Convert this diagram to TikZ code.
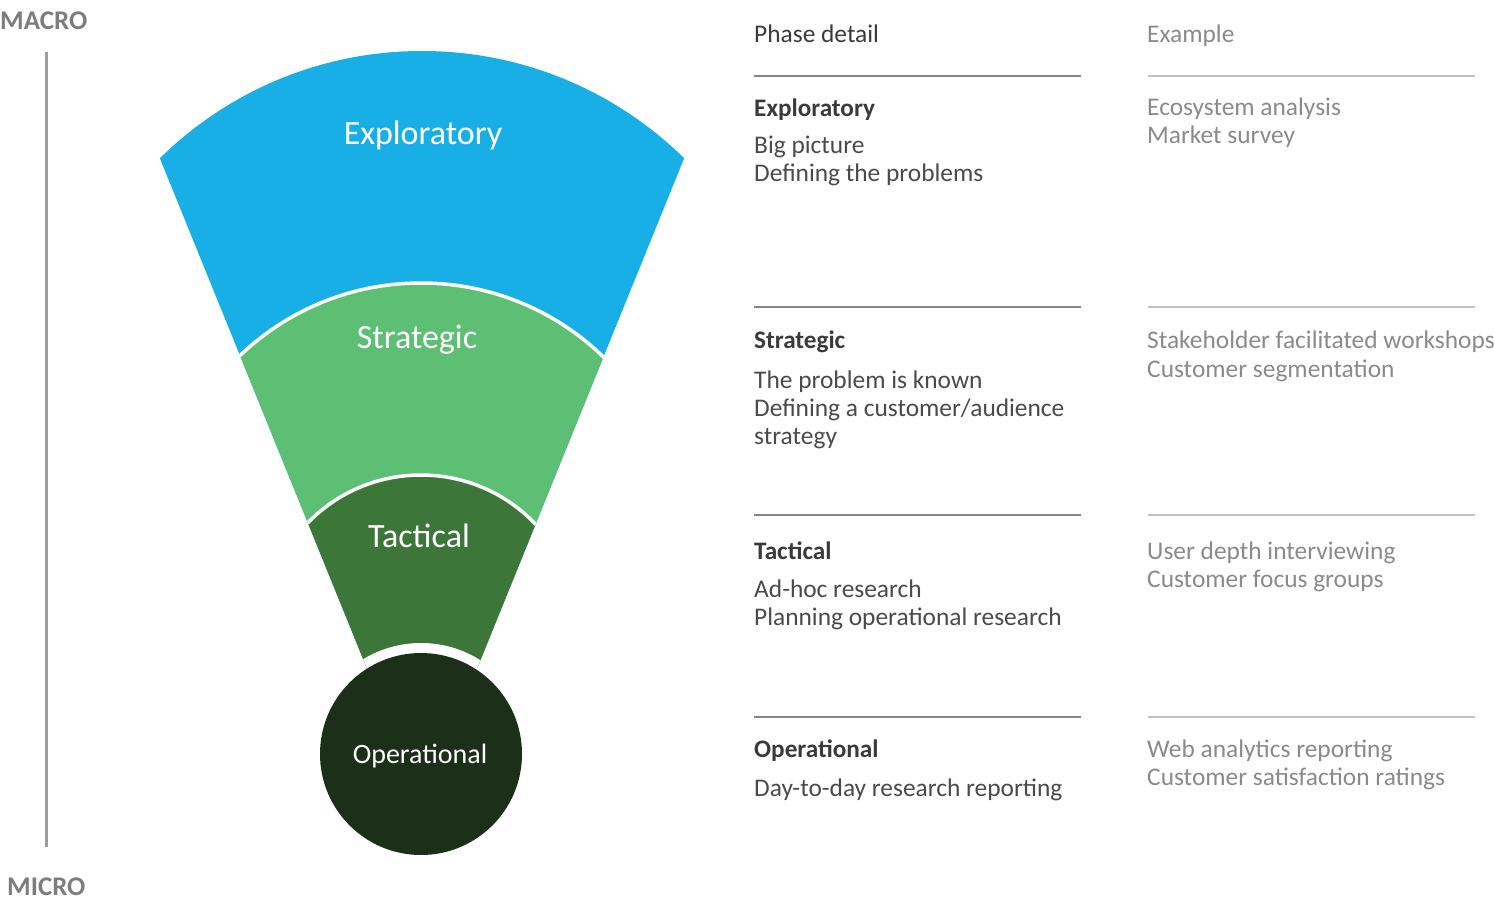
\documentclass[tikz,border=0pt]{standalone}
\usepackage{fontspec}
\setmainfont{Carlito}
\usepackage{tikz}
\definecolor{explblue}{HTML}{17AFE5}
\definecolor{stratgreen}{HTML}{5CBF73}
\definecolor{tactgreen}{HTML}{3C7739}
\definecolor{opgreen}{HTML}{1C2F18}
\definecolor{darktext}{HTML}{3A3A3A}
\definecolor{bodytext}{HTML}{4A4A4A}
\definecolor{lighttext}{HTML}{8A8A8A}
\definecolor{axisgray}{HTML}{9C9C9C}
\tikzset{
  funnellabel/.style={anchor=base,inner sep=0pt,text=white,font=\fontsize{34}{36}\selectfont},
  scaleword/.style={anchor=base west,inner sep=0pt,text=axisgray!80!black,font=\bfseries\fontsize{27}{29}\selectfont},
  colhead/.style={anchor=base west,inner sep=0pt,text=darktext,font=\fontsize{25.4}{28}\selectfont},
  phasetitle/.style={anchor=base west,inner sep=0pt,text=darktext,font=\bfseries\fontsize{25.2}{28}\selectfont},
  phasetext/.style={anchor=base west,inner sep=0pt,text=bodytext,font=\fontsize{25.4}{28}\selectfont},
  exampletext/.style={anchor=base west,inner sep=0pt,text=lighttext,font=\fontsize{25.4}{28}\selectfont},
  phaseline/.style={line width=2.5pt,draw=black!48},
  exampleline/.style={line width=2.5pt,draw=black!24}
}
\begin{document}
\begin{tikzpicture}[x=1pt,y=-1pt]
\useasboundingbox (0,0) rectangle (1494,899);
\begin{scope}
\clip (422,804)--(95.6,0)--(748.4,0)--cycle; %funnel wedge
\fill[explblue] (422,425) circle[radius=374]; %exploratory
\filldraw[fill=stratgreen,draw=white,line width=3.5pt] (421,545) circle[radius=262]; %strategic
\filldraw[fill=tactgreen,draw=white,line width=3.5pt] (421,633) circle[radius=158]; %tactical
\fill[white] (421,754) circle[radius=111]; %gap round operational
\end{scope}
\node[circle,fill=opgreen,minimum size=202pt,inner sep=0pt] (opcirc) at (421,754) {}; %operational
\node[funnellabel] (lblexpl) at (423,144) {Exploratory};
\node[funnellabel] (lblstrat) at (417,348) {Strategic};
\node[funnellabel] (lbltact) at (419,547) {Tactical};
\node[funnellabel,font=\fontsize{28}{30}\selectfont] (lblop) at (420,763) {Operational};
%macro/micro scale
\draw[line width=3pt,axisgray] (46,52)--(46,847);
\node[scaleword] (macro) at (0,30) {MACRO};
\node[scaleword] (micro) at (7,895) {MICRO};
%column heads
\node[colhead] (hphase) at (754,43) {Phase detail};
\node[colhead,text=lighttext] (hexample) at (1147,43) {Example};
%rules
\draw[phaseline] (754,76)--(1081,76);
\draw[phaseline] (754,307)--(1081,307);
\draw[phaseline] (754,515)--(1081,515);
\draw[phaseline] (754,717)--(1081,717);
\draw[exampleline] (1148,76)--(1475,76);
\draw[exampleline] (1148,307)--(1475,307);
\draw[exampleline] (1148,515)--(1475,515);
\draw[exampleline] (1148,717)--(1475,717);
%phase detail
\node[phasetitle] (texpl) at (754,116) {Exploratory};
\node[phasetext] (dexpla) at (754,153) {Big picture};
\node[phasetext] (dexplb) at (754,181) {Defining the problems};
\node[phasetitle] (tstrat) at (754,348) {Strategic};
\node[phasetext] (dstrata) at (754,388) {The problem is known};
\node[phasetext] (dstratb) at (754,416) {Defining a customer/audience};
\node[phasetext] (dstratc) at (754,444) {strategy};
\node[phasetitle] (ttact) at (754,559) {Tactical};
\node[phasetext] (dtacta) at (754,597) {Ad-hoc research};
\node[phasetext] (dtactb) at (754,625.5) {Planning operational research};
\node[phasetitle] (top) at (754,757) {Operational};
\node[phasetext] (dopa) at (754,796) {Day-to-day research reporting};
%examples
\node[exampletext] (eexpla) at (1147,115) {Ecosystem analysis};
\node[exampletext] (eexplb) at (1147,143) {Market survey};
\node[exampletext] (estrata) at (1147,348) {Stakeholder facilitated workshops};
\node[exampletext] (estratb) at (1147,377) {Customer segmentation};
\node[exampletext] (etacta) at (1147,559) {User depth interviewing};
\node[exampletext] (etactb) at (1147,587) {Customer focus groups};
\node[exampletext] (eopa) at (1147,757) {Web analytics reporting};
\node[exampletext] (eopb) at (1147,785) {Customer satisfaction ratings};
\end{tikzpicture}
\end{document}
